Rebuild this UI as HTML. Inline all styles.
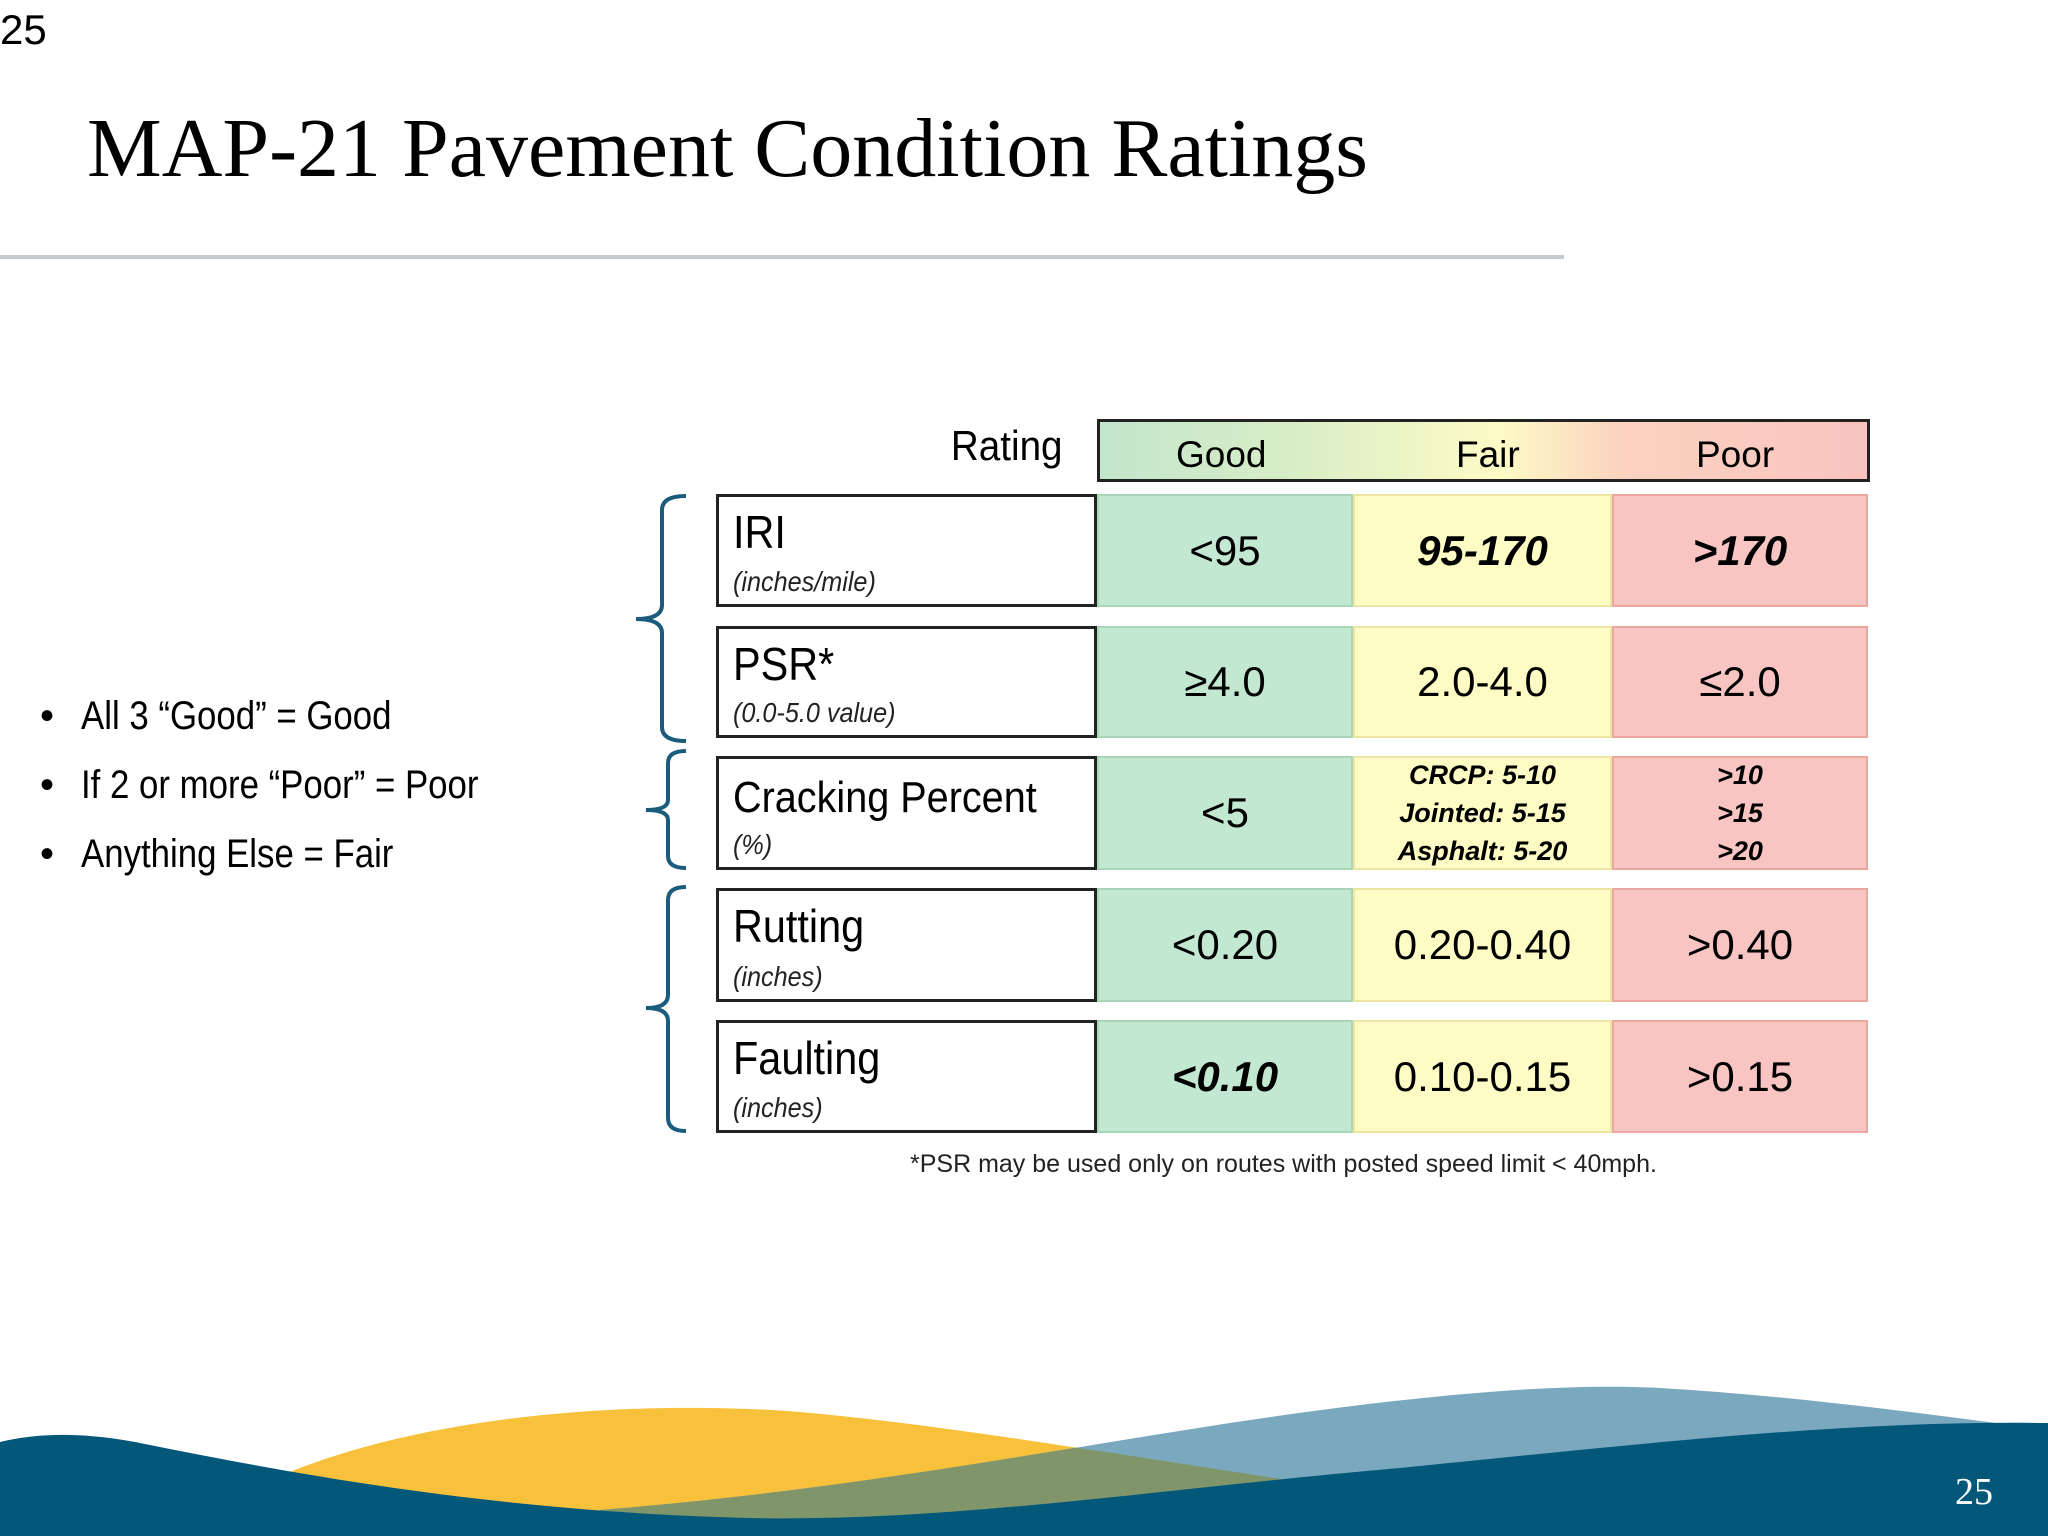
<!DOCTYPE html>
<html><head><meta charset="utf-8">
<style>
body{margin:0;width:2048px;height:1536px;position:relative;overflow:hidden;background:#fff;font-family:"Liberation Sans",sans-serif;color:#000}
.abs{position:absolute}
.lab{position:absolute;left:716px;width:381px;box-sizing:border-box;border:3px solid #222;background:#fff}
.lab .m{position:absolute;left:14px;top:8px;font-size:46px;transform:scaleX(.9);transform-origin:left}
.lab .s{position:absolute;left:14px;bottom:6px;font-size:28px;font-style:italic;color:#222;transform:scaleX(.9);transform-origin:left}
.cell{position:absolute;box-sizing:border-box;display:flex;align-items:center;justify-content:center;text-align:center;font-size:42px;border:2px solid}
.g{background:#c3e8d2;border-color:#a8d4b8}
.f{background:#fefcc4;border-color:#ece6a0}
.p{background:#f9c5c3;border-color:#e8a8a0}
.bi{font-weight:bold;font-style:italic}
.sm{font-size:27px;font-weight:bold;font-style:italic;line-height:38px}
.bul{position:absolute;left:40px;font-size:40px;font-family:"Liberation Sans Narrow","Liberation Sans",sans-serif}
.bul span{display:inline-block;transform:scaleX(.87);transform-origin:left;position:absolute;left:41px;white-space:nowrap}
</style></head><body>
<div class="abs" style="left:0;top:6px;font-size:42px">25</div>
<div class="abs" style="left:87px;top:100px;font-size:84px;font-family:'Liberation Serif',serif">MAP-21 Pavement Condition Ratings</div>
<div class="abs" style="left:0;top:255px;width:1564px;height:4px;background:#c3cbd3"></div>

<div class="bul" style="top:694px">•<span>All 3 “Good” = Good</span></div>
<div class="bul" style="top:763px">•<span>If 2 or more “Poor” = Poor</span></div>
<div class="bul" style="top:832px">•<span>Anything Else = Fair</span></div>

<svg class="abs" style="left:0;top:0" width="2048" height="1536">
<g fill="none" stroke="#1b5b7c" stroke-width="4">
<path d="M686,496 Q662,496 662,510 L662,605 Q662,619 636,619 Q662,619 662,633 L662,727 Q662,741 686,741"/>
<path d="M686,751 Q668,751 668,763 L668,800 Q668,810 646,810 Q668,810 668,820 L668,856 Q668,868 686,868"/>
<path d="M686,887 Q668,887 668,900 L668,995 Q668,1008 646,1008 Q668,1008 668,1021 L668,1118 Q668,1131 686,1131"/>
</g></svg>

<div class="abs" style="left:946px;top:422px;font-size:42px;transform:scaleX(.92)">Rating</div>
<div class="abs" style="left:1097px;top:419px;width:773px;height:63px;box-sizing:border-box;border:3px solid #222;background:linear-gradient(90deg,#c3e6cd 0%,#d8edc6 25%,#fdfbc6 52%,#fbd3bf 68%,#f9c3c0 100%)">
<span class="abs" style="left:76px;top:12px;font-size:37px">Good</span>
<span class="abs" style="left:356px;top:12px;font-size:37px">Fair</span>
<span class="abs" style="left:596px;top:12px;font-size:37px">Poor</span>
</div>

<div class="lab" style="top:494px;height:113px"><span class="m">IRI</span><span class="s">(inches/mile)</span></div>
<div class="cell g" style="left:1097px;top:494px;width:256px;height:113px">&lt;95</div>
<div class="cell f bi" style="left:1353px;top:494px;width:259px;height:113px">95-170</div>
<div class="cell p bi" style="left:1612px;top:494px;width:256px;height:113px">&gt;170</div>

<div class="lab" style="top:626px;height:112px"><span class="m">PSR*</span><span class="s">(0.0-5.0 value)</span></div>
<div class="cell g" style="left:1097px;top:626px;width:256px;height:112px">≥4.0</div>
<div class="cell f" style="left:1353px;top:626px;width:259px;height:112px">2.0-4.0</div>
<div class="cell p" style="left:1612px;top:626px;width:256px;height:112px">≤2.0</div>

<div class="lab" style="top:756px;height:114px"><span class="m" style="top:14px;font-size:44px">Cracking Percent</span><span class="s">(%)</span></div>
<div class="cell g" style="left:1097px;top:756px;width:256px;height:114px">&lt;5</div>
<div class="cell f sm" style="left:1353px;top:756px;width:259px;height:114px">CRCP: 5-10<br>Jointed: 5-15<br>Asphalt: 5-20</div>
<div class="cell p sm" style="left:1612px;top:756px;width:256px;height:114px">&gt;10<br>&gt;15<br>&gt;20</div>

<div class="lab" style="top:888px;height:114px"><span class="m">Rutting</span><span class="s">(inches)</span></div>
<div class="cell g" style="left:1097px;top:888px;width:256px;height:114px">&lt;0.20</div>
<div class="cell f" style="left:1353px;top:888px;width:259px;height:114px">0.20-0.40</div>
<div class="cell p" style="left:1612px;top:888px;width:256px;height:114px">&gt;0.40</div>

<div class="lab" style="top:1020px;height:113px"><span class="m">Faulting</span><span class="s">(inches)</span></div>
<div class="cell g bi" style="left:1097px;top:1020px;width:256px;height:113px">&lt;0.10</div>
<div class="cell f" style="left:1353px;top:1020px;width:259px;height:113px">0.10-0.15</div>
<div class="cell p" style="left:1612px;top:1020px;width:256px;height:113px">&gt;0.15</div>

<div class="abs" style="left:910px;top:1150px;font-size:25px;color:#222">*PSR may be used only on routes with posted speed limit &lt; 40mph.</div>

<svg class="abs" style="left:0;top:0" width="2048" height="1536">
<defs><clipPath id="yc"><path d="M240,1495 C400,1410 650,1400 800,1412 C950,1425 1150,1460 1420,1500 L1420,1536 L240,1536 Z"/></clipPath></defs>
<path d="M240,1495 C400,1410 650,1400 800,1412 C950,1425 1150,1460 1420,1500 L1420,1536 L240,1536 Z" fill="#f8c13c"/>
<path d="M600,1510 C850,1490 1050,1450 1250,1420 C1400,1398 1550,1382 1660,1388 C1780,1395 1900,1410 2048,1430 L2048,1536 L600,1536 Z" fill="#7aa8bf"/>
<path d="M600,1510 C850,1490 1050,1450 1250,1420 C1400,1398 1550,1382 1660,1388 C1780,1395 1900,1410 2048,1430 L2048,1536 L600,1536 Z" fill="#80956a" clip-path="url(#yc)"/>
<path d="M0,1442 C40,1432 90,1432 150,1445 C300,1475 500,1512 750,1518 C950,1522 1150,1490 1400,1468 C1650,1443 1850,1420 2048,1423 L2048,1536 L0,1536 Z" fill="#03587a"/>
</svg>
<div class="abs" style="left:1955px;top:1470px;font-size:38px;color:#fff;font-family:'Liberation Serif',serif">25</div>
</body></html>
